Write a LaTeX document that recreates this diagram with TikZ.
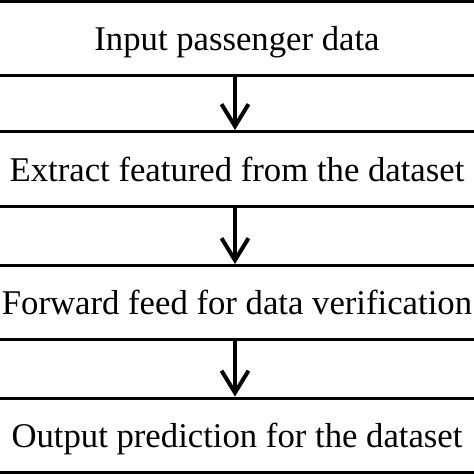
\documentclass[tikz,border=0pt]{standalone}
\usepackage{fontspec}
\setmainfont{Liberation Serif}
\usetikzlibrary{arrows.meta}
\begin{document}
\begin{tikzpicture}[x=1pt,y=-1pt,
  stepbox/.style={draw=black, line width=3pt, minimum width=500pt, inner sep=0pt,
    text height=26pt, text depth=2pt, font=\fontsize{34.7}{40}\selectfont},
  arr/.style={line width=4pt, -{Straight Barb[length=22pt,width=27pt]}}]
\clip (0,0) rectangle (474,474);
\fill[white] (0,0) rectangle (474,474);
\node[stepbox, minimum height=74pt] (b1) at (237,38.5) {Input passenger data};
\node[stepbox, minimum height=75pt] (b2) at (237,169) {Extract featured from the dataset};
\node[stepbox, minimum height=74pt] (b3) at (237,302.5) {Forward feed for data verification};
\node[stepbox, minimum height=74pt] (b4) at (237,435) {Output prediction for the dataset};
\draw[arr] ([xshift=-2pt]b1.south) -- ([xshift=-2pt]b2.north);
\draw[arr] ([xshift=-2pt]b2.south) -- ([xshift=-2pt]b3.north);
\draw[arr] ([xshift=-2pt]b3.south) -- ([xshift=-2pt]b4.north);
\end{tikzpicture}
\end{document}
